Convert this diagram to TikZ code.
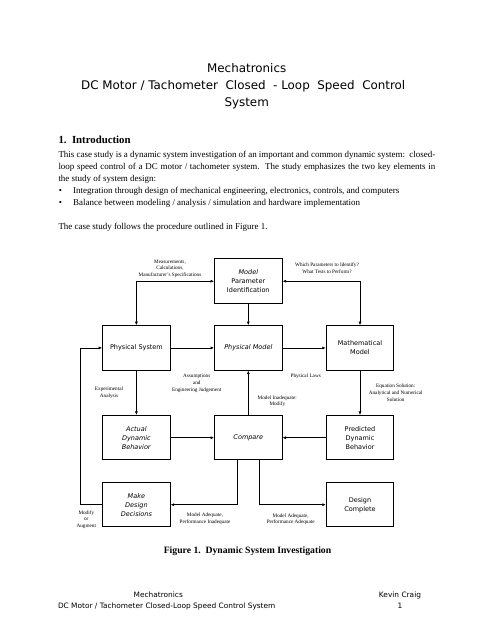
\documentclass[tikz,border=0pt]{standalone}
\usepackage{fontspec}
\setmainfont{Liberation Serif}
\newfontfamily\comic{DejaVu Sans}
\usetikzlibrary{arrows.meta}
\newlength\refw
\newcommand\bodyfs{10}
\newcommand\sqline[1]{\makebox[376.7pt][s]{\spaceskip=0.25em plus 0.6em minus 0.12em\relax #1}}
\begin{document}
\settowidth\refw{\fontsize{10}{12}\selectfont Integration through design of mechanical engineering, electronics, controls, and computers}%
\pgfmathsetmacro\bodyfs{10*326/\refw}%
\begin{tikzpicture}[x=1pt,y=-1pt,
  box/.style={draw,line width=1pt,minimum width=67.5pt,minimum height=44.5pt,inner sep=0pt,align=center,
    font=\comic\fontsize{6.5}{9}\selectfont},
  conn/.style={line width=0.6pt,-{Latex[length=3.5pt,width=3pt]}},
  biconn/.style={line width=0.6pt,{Latex[length=3.5pt,width=3pt]}-{Latex[length=3.5pt,width=3pt]}},
  lab/.style={align=center,inner sep=0pt,font=\fontsize{5.2}{6.6}\selectfont},
  body/.style={anchor=base west,inner sep=0pt,font=\fontsize{\bodyfs}{11.8}\selectfont},
  ttl/.style={anchor=base,inner sep=0pt,font=\comic\fontsize{11.9}{13}\selectfont},
  foot/.style={anchor=base,inner sep=0pt,font=\comic\fontsize{7.4}{9}\selectfont}]
\useasboundingbox[fill=white] (0,0) rectangle (495,640);
% title
\node[ttl] (t1) at (246.7,72.5) {Mechatronics};
\node[ttl] (t2) at (243.2,89.5) {DC Motor / Tachometer\ \ Closed\ \ - Loop\ \ Speed\ \ Control};
\node[ttl] (t3) at (246.7,106.5) {System};
% intro
\node[anchor=base west,inner sep=0pt,font=\bfseries\fontsize{10.8}{12}\selectfont] (h1) at (58.3,143.3) {1.\ \ Introduction};
\node[body] (l1) at (58.3,157) {\sqline{This case study is a dynamic system investigation of an important and common dynamic system:\ \ closed-}};
\node[body] (l2) at (58.3,169) {\sqline{loop speed control of a DC motor / tachometer system.\ \ The study emphasizes the two key elements in}};
\node[body] (l3) at (58.3,181) {the study of system design:};
\node[body] (b1) at (58.6,193) {\textbullet};
\node[body] (l4) at (73,193) {Integration through design of mechanical engineering, electronics, controls, and computers};
\node[body] (b2) at (58.6,205) {\textbullet};
\node[body] (l5) at (73,205) {Balance between modeling / analysis / simulation and hardware implementation};
\node[body] (l6) at (58.3,229) {The case study follows the procedure outlined in Figure 1.};
% boxes
\node[box] (mpi) at (248.3,281.2) {\textit{Model}\\Parameter\\Identification};
\node[box] (ps) at (136.4,347.9) {Physical System};
\node[box] (pm) at (248.3,347.9) {\textit{Physical Model}};
\node[box] (mm) at (360,347.9) {Mathematical\\Model};
\node[box] (adb) at (136.4,437.7) {\textit{Actual}\\\textit{Dynamic}\\\textit{Behavior}};
\node[box] (cmp) at (248.3,437.7) {\textit{Compare}};
\node[box] (pdb) at (360,437.7) {Predicted\\Dynamic\\Behavior};
\node[box] (mdd) at (136.4,504.7) {\textit{Make}\\\textit{Design}\\\textit{Decisions}};
\node[box] (dc) at (360,504.7) {Design\\Complete};
% connectors
\draw[biconn] (ps.north) |- (mpi.west);
\draw[biconn] (mpi.east) -| (mm.north);
\draw[conn] (mpi) -- (pm);
\draw[conn] (ps) -- (pm);
\draw[conn] (pm) -- (mm);
\draw[conn] (ps) -- (adb);
\draw[conn] (mm) -- (pdb);
\draw[conn] (adb) -- (cmp);
\draw[conn] (pdb) -- (cmp);
\draw[conn] (cmp) -- (pm);
\draw[conn] ([xshift=-11pt]cmp.south) |- (mdd.east);
\draw[conn] ([xshift=11pt]cmp.south) |- (dc.west);
\coordinate (lp) at (80.3,504.7);
\draw[conn] (mdd.west) -- (lp) |- (ps.west);
% labels
\node[lab] (la1) at (170,268.5) {Measurements,\\Calculations,\\Manufacturer's Specifications};
\node[lab] (la2) at (327,268.3) {Which Parameters to Identify?\\What Tests to Perform?};
\node[lab] (la3) at (196.7,383.3) {Assumptions\\and\\Engineering Judgement};
\node[lab] (la4) at (109,392.8) {Experimental\\Analysis};
\node[lab] (la5) at (305.7,376.3) {Physical Laws};
\node[lab] (la6) at (277.3,401.3) {Model Inadequate:\\Modify};
\node[lab] (la7) at (395.7,392.7) {Equation Solution:\\Analytical and Numerical\\Solution};
\node[lab] (la8) at (86.3,519.5) {Modify\\or\\Augment};
\node[lab] (la9) at (205,518.5) {Model Adequate,\\Performance Inadequate};
\node[lab] (la10) at (290.7,519.3) {Model Adequate,\\Performance Adequate};
\node[anchor=base,inner sep=0pt,font=\bfseries\fontsize{9.7}{12}\selectfont] (cap) at (247.5,553) {Figure 1.\ \ Dynamic System Investigation};
% footer
\node[foot] (f1) at (158.3,597.5) {Mechatronics};
\node[foot] (f2) at (166.7,608.5) {DC Motor / Tachometer Closed-Loop Speed Control System};
\node[foot] (f3) at (400,597.5) {Kevin Craig};
\node[foot] (f4) at (400,608.5) {1};
\end{tikzpicture}
\end{document}
